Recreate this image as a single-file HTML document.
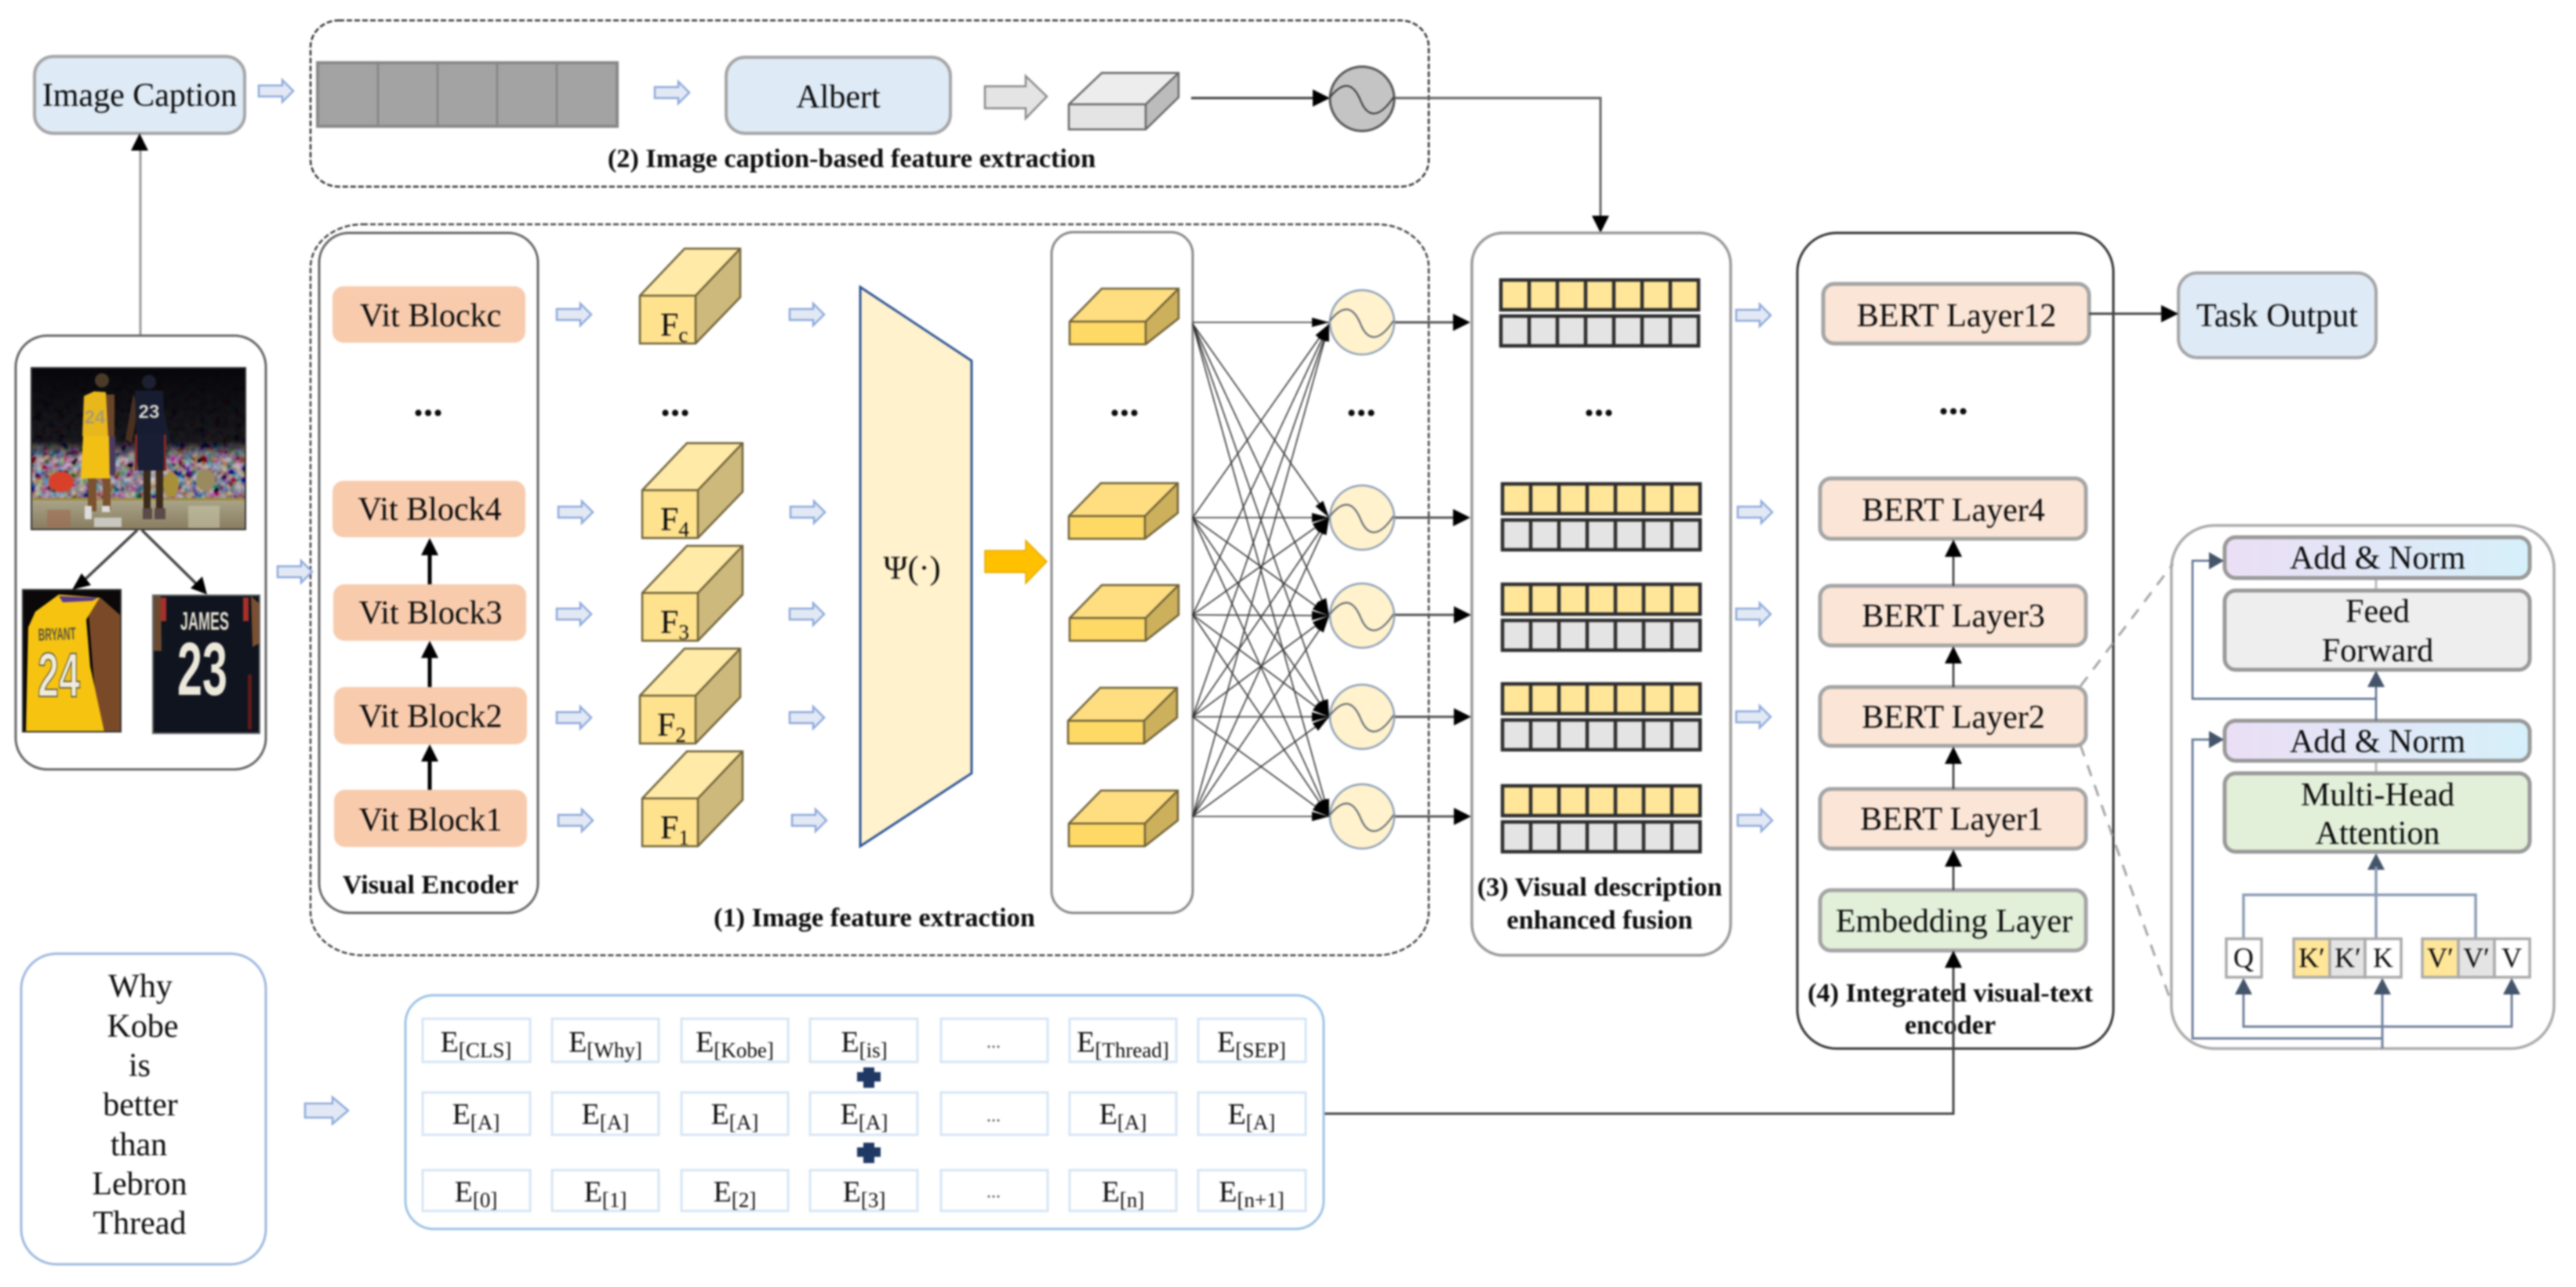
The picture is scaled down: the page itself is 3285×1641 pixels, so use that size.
<!DOCTYPE html>
<html><head><meta charset="utf-8"><style>
html,body{margin:0;padding:0;background:#fff;width:3285px;height:1641px;overflow:hidden}
svg{display:block;filter:blur(1.1px)}
text{font-family:"Liberation Serif",serif;fill:#0c0c0c}
.t{font-size:42px;text-anchor:middle}
.b{font-size:34.3px;font-weight:bold;text-anchor:middle}
.s{font-size:36px;text-anchor:middle}
.d{font-size:50px;font-weight:bold;text-anchor:middle}
.e{font-size:38px;text-anchor:middle}
.e tspan{font-size:27px}
.x{font-size:24px;text-anchor:middle;fill:#555}
</style></head><body>
<svg xmlns="http://www.w3.org/2000/svg" width="3285" height="1641" viewBox="0 0 3285 1641">
<defs>
<linearGradient id="an" x1="0" x2="1" y1="0" y2="0"><stop offset="0" stop-color="#ebdff5"/><stop offset="1" stop-color="#d6f0fa"/></linearGradient>
<linearGradient id="fl" x1="0" x2="0" y1="0" y2="1"><stop offset="0" stop-color="#a8a488"/><stop offset="1" stop-color="#8a7c60"/></linearGradient>
<linearGradient id="fade" x1="0" x2="0" y1="0" y2="1"><stop offset="0" stop-color="#07070b" stop-opacity="1"/><stop offset=".55" stop-color="#07070b" stop-opacity=".88"/><stop offset=".68" stop-color="#07070b" stop-opacity="0"/></linearGradient>
<filter id="n" x="0" y="0" width="1" height="1"><feTurbulence type="fractalNoise" baseFrequency="0.11" numOctaves="2" seed="7"/><feColorMatrix values="1.0 .4 0 0 -.44  .3 .9 .1 0 -.44  .2 .4 .8 0 -.44  0 0 0 0 1"/></filter>
<clipPath id="cp1"><rect x="40" y="469" width="273" height="206"/></clipPath>
<clipPath id="cp2"><rect x="29" y="752" width="125" height="181"/></clipPath>
<clipPath id="cp3"><rect x="195" y="759" width="136" height="176"/></clipPath>
<g id="ba"><path d="M0,-7H30V-14L44,0L30,14V7H0Z" fill="#e2e9f4" stroke="#8faadc" stroke-width="2.5"/></g>
<g id="au"><polygon points="-11,22 0,0 11,22" fill="#000"/></g>
<g id="ad"><polygon points="-11,-22 0,0 11,-22" fill="#000"/></g>
<g id="ar"><polygon points="-22,-11 0,0 -22,11" fill="#000"/></g>
<g id="bu"><polygon points="-11,21 0,0 11,21" fill="#44546a"/></g>
<g id="br"><polygon points="-19,-11 0,0 -19,11" fill="#44546a"/></g>
<g id="cube"><path d="M0,0L57,-60H128L71,0Z" fill="#ffeaa8"/><path d="M71,0L128,-60V2L71,61Z" fill="#cdb97c"/><rect width="71" height="61" fill="#ffe28e"/><path d="M0,0L57,-60H128V2L71,61H0ZM0,0H71M71,0L128,-60M71,0V61" fill="none" stroke="#6f6238" stroke-width="2.5"/></g>
<g id="flat"><path d="M0,0L41,-42H139L97,0Z" fill="#ffde82"/><path d="M97,0L139,-42V-4L97,29Z" fill="#cdb05c"/><rect width="97" height="29" fill="#ffd966"/><path d="M0,0L41,-42H139V-4L97,29H0ZM0,0H97M97,0L139,-42M97,0V29" fill="none" stroke="#6f6238" stroke-width="2.5"/></g>
<g id="cy"><circle r="41" fill="#fff2cc" stroke="#8ea0b8" stroke-width="2.5"/><path d="M-41,-2C-25,-22 -12,-22 -2,2C6,22 20,28 40,-2" fill="none" stroke="#55606e" stroke-width="2"/></g>
<g id="row"><rect x="0" y="0" width="252" height="38" fill="#ffe699"/><rect x="0" y="46" width="252" height="38" fill="#e4e4e4"/>
<path d="M0,0H252V38H0ZM36,0V38M72,0V38M108,0V38M144,0V38M180,0V38M216,0V38M0,46H252V84H0ZM36,46V84M72,46V84M108,46V84M144,46V84M180,46V84M216,46V84" fill="none" stroke="#2e2e2e" stroke-width="4.5"/></g>
<marker id="m" markerUnits="userSpaceOnUse" markerWidth="22" markerHeight="14" refX="22" refY="7" orient="auto"><polygon points="0,1 22,7 0,13" fill="#000"/></marker>
</defs>
<rect width="3285" height="1641" fill="#fff"/>

<!-- dashed groups -->
<rect x="396" y="26" width="1426" height="212" rx="36" ry="34" fill="none" stroke="#333" stroke-width="2.5" stroke-dasharray="7 3"/>
<rect x="396" y="286" width="1426" height="932" rx="66" ry="55" fill="none" stroke="#444" stroke-width="2.5" stroke-dasharray="7 3"/>

<!-- Image caption -->
<rect x="44" y="72" width="268" height="98" rx="24" fill="#deeaf6" stroke="#a5a5a5" stroke-width="4"/>
<text class="t" x="178" y="135">Image Caption</text>
<path d="M179,428V188" stroke="#999" stroke-width="3" fill="none"/><use href="#au" x="178" y="170"/>
<use href="#ba" x="330" y="116"/>
<rect x="405" y="80" width="382" height="81" fill="#a3a3a3" stroke="#888" stroke-width="4"/>
<path d="M482,80V161M558,80V161M634,80V161M710,80V161" stroke="#888" stroke-width="3"/>
<use href="#ba" x="835" y="118"/>
<rect x="926" y="73" width="286" height="97" rx="24" fill="#deeaf6" stroke="#a5a5a5" stroke-width="4"/>
<text class="t" x="1069" y="137">Albert</text>
<path d="M1256,110H1308V97L1335,123L1308,151V138H1256Z" fill="#e4e4e4" stroke="#8a8a8a" stroke-width="2.5"/>
<path d="M1363,133L1405,93H1503L1461,133Z" fill="#ededed"/><path d="M1461,133L1503,93V124L1461,165Z" fill="#bcbcbc"/><rect x="1363" y="133" width="98" height="32" fill="#e4e4e4"/>
<path d="M1363,133L1405,93H1503V124L1461,165H1363ZM1363,133H1461M1461,133L1503,93M1461,133V165" fill="none" stroke="#666" stroke-width="2.5"/>
<path d="M1519,125H1680" stroke="#444" stroke-width="3"/><use href="#ar" x="1696" y="125"/>
<circle cx="1737" cy="126" r="41" fill="#c4c4c4" stroke="#555" stroke-width="3"/><path d="M1696,124C1712,104 1725,104 1735,128C1743,148 1757,154 1777,124" fill="none" stroke="#333" stroke-width="2"/>
<path d="M1779,125H2041V280" fill="none" stroke="#666" stroke-width="3"/><use href="#ad" x="2041" y="297"/>
<text class="b" x="1086" y="213">(2) Image caption-based feature extraction</text>

<!-- Input image -->
<rect x="20" y="428" width="319" height="553" rx="40" fill="#fff" stroke="#666" stroke-width="3"/>
<g clip-path="url(#cp1)">
<rect x="40" y="469" width="273" height="206" fill="#07070b"/>
<rect x="40" y="469" width="273" height="170" filter="url(#n)"/>
<rect x="40" y="469" width="273" height="170" fill="url(#fade)"/>
<ellipse cx="78" cy="614" rx="16" ry="13" fill="#d8402a"/><ellipse cx="218" cy="618" rx="10" ry="16" fill="#a89038"/><ellipse cx="262" cy="612" rx="12" ry="14" fill="#9a8a60"/>
<rect x="40" y="635" width="273" height="4" fill="#a08a40"/>
<rect x="40" y="638" width="273" height="37" fill="url(#fl)"/>
<rect x="120" y="660" width="35" height="12" fill="#c8c8c0"/><rect x="60" y="650" width="30" height="22" fill="#a06a50" opacity=".6"/><rect x="240" y="645" width="40" height="28" fill="#c8c4a8" opacity=".6"/>
<circle cx="130" cy="485" r="9" fill="#4a3a28"/>
<rect x="131" y="503" width="15" height="55" fill="#6a4428"/><rect x="135" y="556" width="12" height="50" fill="#4a3a60"/>
<rect x="112" y="610" width="11" height="42" fill="#7a5230"/><rect x="131" y="610" width="10" height="40" fill="#7a5230"/>
<rect x="108" y="645" width="9" height="17" fill="#ddd"/><rect x="130" y="645" width="10" height="8" fill="#ddd"/>
<path d="M107,505L120,499L135,500L138,556H105Z" fill="#e8b71c"/><path d="M106,556H139L140,610H103Z" fill="#f2c014"/>
<text x="121" y="540" style="font:bold 24px 'Liberation Sans',sans-serif;fill:#a89a70" text-anchor="middle">24</text>
<circle cx="190" cy="487" r="9" fill="#1c2030"/>
<path d="M170,502L160,560L168,565L176,520Z" fill="#4a3020"/><path d="M205,505L218,565L212,568L200,530Z" fill="#181c30"/>
<path d="M172,498H208L210,554H174Z" fill="#181c30"/><path d="M172,554H212V600H176Z" fill="#1a1e34"/>
<rect x="172" y="554" width="3" height="46" fill="#8a2a20"/><rect x="209" y="554" width="3" height="46" fill="#8a2a20"/>
<text x="190" y="533" style="font:bold 24px 'Liberation Sans',sans-serif;fill:#d5d5cc" text-anchor="middle">23</text>
<rect x="183" y="600" width="9" height="50" fill="#3a2a1a"/><rect x="199" y="600" width="9" height="50" fill="#3a2a1a"/>
<rect x="182" y="648" width="12" height="14" fill="#5a4a48"/><rect x="197" y="648" width="14" height="14" fill="#5a4a48"/>
</g>
<rect x="40" y="469" width="273" height="206" fill="none" stroke="#333" stroke-width="2"/>
<g clip-path="url(#cp2)">
<rect x="29" y="752" width="125" height="181" fill="#0a0808"/>
<path d="M112,770L128,762L154,785V933H125Z" fill="#7a4a28"/>
<path d="M33,933L36,800L45,780L75,758L127,762L110,790L115,850L133,933Z" fill="#f6c410"/>
<path d="M75,760L125,762L118,766L80,768Z" fill="#5a3a90"/>
<text x="73" y="816" transform="rotate(-2 73 816)" style="font:bold 22px 'Liberation Sans',sans-serif;fill:#5a5540" text-anchor="middle" textLength="48" lengthAdjust="spacingAndGlyphs">BRYANT</text>
<text x="75" y="888" style="font:bold 80px 'Liberation Sans',sans-serif;fill:#f0ecd8;stroke:#444;stroke-width:1.5" text-anchor="middle" textLength="54" lengthAdjust="spacingAndGlyphs">24</text>
</g>
<rect x="29" y="752" width="125" height="181" fill="none" stroke="#333" stroke-width="2"/>
<g clip-path="url(#cp3)">
<rect x="195" y="759" width="136" height="176" fill="#10141f"/>
<path d="M195,760H205L206,830H195Z" fill="#6a4a30"/><path d="M320,760L331,770V820L322,825Z" fill="#7a5030"/>
<rect x="205" y="762" width="7" height="30" fill="#a83028"/><rect x="310" y="762" width="7" height="30" fill="#a83028"/>
<rect x="316" y="860" width="5" height="70" fill="#601a18"/>
<text x="261" y="803" style="font:bold 32px 'Liberation Sans',sans-serif;fill:#e4dfcf" text-anchor="middle" textLength="62" lengthAdjust="spacingAndGlyphs">JAMES</text>
<text x="258" y="886" style="font:bold 96px 'Liberation Sans',sans-serif;fill:#ece8da" text-anchor="middle" textLength="64" lengthAdjust="spacingAndGlyphs">23</text>
</g>
<rect x="195" y="759" width="136" height="176" fill="none" stroke="#666" stroke-width="2"/>
<path d="M175,676L105,742M181,676L254,748" stroke="#444" stroke-width="3.5" fill="none"/>
<polygon points="92,752 104,731 116,746" fill="#000"/><polygon points="264,758 243,750 258,735" fill="#000"/>
<use href="#ba" x="354" y="729"/>

<!-- Visual encoder -->
<rect x="407" y="297" width="279" height="867" rx="38" fill="#fff" stroke="#666" stroke-width="3"/>
<g fill="#f8cbad"><rect x="424" y="365" width="246" height="72" rx="14"/><rect x="424" y="613" width="246" height="72" rx="14"/><rect x="425" y="745" width="246" height="72" rx="14"/><rect x="426" y="876" width="246" height="73" rx="14"/><rect x="426" y="1007" width="246" height="73" rx="14"/></g>
<text class="t" x="549" y="416">Vit Blockc</text>
<text class="t" x="548" y="663">Vit Block4</text>
<text class="t" x="549" y="795">Vit Block3</text>
<text class="t" x="549" y="927">Vit Block2</text>
<text class="t" x="549" y="1059">Vit Block1</text>
<text class="d" x="546" y="530">...</text>
<path d="M548,700V745M548,832V876M548,963V1007" stroke="#000" stroke-width="5"/>
<use href="#au" x="548" y="686"/><use href="#au" x="548" y="817"/><use href="#au" x="548" y="949"/>
<text class="b" x="549" y="1139">Visual Encoder</text>
<use href="#ba" x="710" y="401"/><use href="#ba" x="712" y="653"/><use href="#ba" x="710" y="783"/><use href="#ba" x="710" y="915"/><use href="#ba" x="712" y="1046"/>
<use href="#cube" x="816" y="377"/><use href="#cube" x="819" y="625"/><use href="#cube" x="819" y="756"/><use href="#cube" x="816" y="887"/><use href="#cube" x="819" y="1018"/>
<text class="t" x="842" y="428" style="text-anchor:start">F<tspan font-size="27" dy="8">c</tspan></text>
<text class="t" x="842" y="676" style="text-anchor:start">F<tspan font-size="27" dy="8">4</tspan></text>
<text class="t" x="842" y="807" style="text-anchor:start">F<tspan font-size="27" dy="8">3</tspan></text>
<text class="t" x="838" y="938" style="text-anchor:start">F<tspan font-size="27" dy="8">2</tspan></text>
<text class="t" x="842" y="1069" style="text-anchor:start">F<tspan font-size="27" dy="8">1</tspan></text>
<text class="d" x="861" y="530">...</text>
<use href="#ba" x="1007" y="401"/><use href="#ba" x="1008" y="653"/><use href="#ba" x="1007" y="783"/><use href="#ba" x="1007" y="915"/><use href="#ba" x="1010" y="1046"/>
<polygon points="1097,366 1239,460 1239,986 1097,1079" fill="#fff2cc" stroke="#2f5597" stroke-width="3"/>
<text class="t" x="1163" y="738">Ψ(·)</text>
<path d="M1256,702H1308V689L1335,716L1308,744V730H1256Z" fill="#ffc000" stroke="#e0a800" stroke-width="1.5"/>
<rect x="1341" y="296" width="180" height="868" rx="28" fill="#fff" stroke="#888" stroke-width="3"/>
<use href="#flat" x="1364" y="410"/><use href="#flat" x="1363" y="658"/><use href="#flat" x="1364" y="788"/><use href="#flat" x="1362" y="919"/><use href="#flat" x="1363" y="1050"/>
<text class="d" x="1434" y="530">...</text>
<text class="b" x="1115" y="1181">(1) Image feature extraction</text>

<!-- mesh -->
<g fill="none" stroke="#333" stroke-width="1.6" marker-end="url(#m)">
<path d="M1521,411L1695,411"/><path d="M1521,413L1695,660"/><path d="M1521,413L1695,785"/><path d="M1521,413L1695,914"/><path d="M1521,413L1695,1041"/>
<path d="M1521,660L1695,413"/><path d="M1521,660L1695,660"/><path d="M1521,660L1695,785"/><path d="M1521,660L1695,914"/><path d="M1521,660L1695,1041"/>
<path d="M1521,784L1695,413"/><path d="M1521,784L1695,660"/><path d="M1521,784L1695,785"/><path d="M1521,784L1695,914"/><path d="M1521,784L1695,1041"/>
<path d="M1521,914L1695,413"/><path d="M1521,914L1695,660"/><path d="M1521,914L1695,785"/><path d="M1521,914L1695,914"/><path d="M1521,914L1695,1041"/>
<path d="M1521,1041L1695,413"/><path d="M1521,1041L1695,660"/><path d="M1521,1041L1695,785"/><path d="M1521,1041L1695,914"/><path d="M1521,1041L1695,1041"/>
</g>
<use href="#cy" x="1737" y="411"/><use href="#cy" x="1737" y="660"/><use href="#cy" x="1737" y="785"/><use href="#cy" x="1737" y="914"/><use href="#cy" x="1737" y="1041"/>
<text class="d" x="1736" y="530">...</text>
<path d="M1779,411H1856M1779,660H1856M1779,784H1856M1779,914H1856M1779,1041H1856" stroke="#555" stroke-width="3"/>
<use href="#ar" x="1875" y="411"/><use href="#ar" x="1875" y="660"/><use href="#ar" x="1876" y="784"/><use href="#ar" x="1876" y="914"/><use href="#ar" x="1876" y="1041"/>

<!-- fusion -->
<rect x="1877" y="297" width="330" height="921" rx="40" fill="#fff" stroke="#999" stroke-width="3.5"/>
<use href="#row" x="1914" y="357"/><use href="#row" x="1916" y="617"/><use href="#row" x="1916" y="745"/><use href="#row" x="1916" y="872"/><use href="#row" x="1916" y="1002"/>
<text class="d" x="2039" y="530">...</text>
<text class="b" x="2040" y="1142">(3) Visual description</text>
<text class="b" x="2040" y="1184">enhanced fusion</text>
<use href="#ba" x="2214" y="402"/><use href="#ba" x="2216" y="653"/><use href="#ba" x="2214" y="783"/><use href="#ba" x="2214" y="914"/><use href="#ba" x="2216" y="1046"/>

<!-- BERT -->
<rect x="2292" y="297" width="403" height="1040" rx="50" fill="#fff" stroke="#333" stroke-width="3"/>
<g fill="#fbe5d6" stroke="#a5a5a5" stroke-width="5">
<rect x="2325" y="362" width="339" height="76" rx="14"/><rect x="2321" y="610" width="339" height="77" rx="14"/><rect x="2321" y="747" width="339" height="76" rx="14"/><rect x="2321" y="876" width="339" height="75" rx="14"/><rect x="2321" y="1006" width="339" height="76" rx="14"/></g>
<rect x="2321" y="1135" width="339" height="77" rx="14" fill="#e2efd9" stroke="#a5a5a5" stroke-width="5"/>
<text class="t" x="2495" y="416">BERT Layer12</text>
<text class="d" x="2491" y="528">...</text>
<text class="t" x="2491" y="664">BERT Layer4</text>
<text class="t" x="2491" y="799">BERT Layer3</text>
<text class="t" x="2491" y="928">BERT Layer2</text>
<text class="t" x="2489" y="1058">BERT Layer1</text>
<text class="t" x="2492" y="1188">Embedding Layer</text>
<path d="M2491,700V747M2491,835V876M2491,965V1006M2491,1095V1135" stroke="#333" stroke-width="2.5"/>
<use href="#au" x="2491" y="688"/><use href="#au" x="2491" y="824"/><use href="#au" x="2491" y="952"/><use href="#au" x="2491" y="1083"/>
<text class="b" x="2487" y="1277">(4) Integrated visual-text</text>
<text class="b" x="2487" y="1318">encoder</text>
<path d="M1688,1420H2491V1230" fill="none" stroke="#444" stroke-width="3"/><use href="#au" x="2491" y="1212"/>
<rect x="2778" y="348" width="252" height="108" rx="24" fill="#deeaf6" stroke="#a5a5a5" stroke-width="4"/>
<text class="t" x="2904" y="416">Task Output</text>
<path d="M2664,400H2760" stroke="#444" stroke-width="3"/><use href="#ar" x="2778" y="400"/>

<!-- detail box -->
<rect x="2769" y="670" width="488" height="667" rx="55" fill="#fff" stroke="#aaa" stroke-width="3.5"/>
<path d="M2653,875L2771,719M2653,950L2767,1273" fill="none" stroke="#a5a5a5" stroke-width="3" stroke-dasharray="15 12"/>
<path d="M3030,737V753M3030,970V986" stroke="#bbb" stroke-width="3"/>
<rect x="2837" y="685" width="389" height="52" rx="14" fill="url(#an)" stroke="#999" stroke-width="5"/>
<rect x="2837" y="753" width="389" height="101" rx="14" fill="#eeeeee" stroke="#999" stroke-width="5"/>
<rect x="2837" y="919" width="389" height="51" rx="14" fill="url(#an)" stroke="#999" stroke-width="5"/>
<rect x="2837" y="986" width="389" height="100" rx="14" fill="#e2efd9" stroke="#999" stroke-width="5"/>
<text class="t" x="3032" y="725">Add &amp; Norm</text>
<text class="t" x="3032" y="793">Feed</text>
<text class="t" x="3032" y="843">Forward</text>
<text class="t" x="3032" y="959">Add &amp; Norm</text>
<text class="t" x="3032" y="1027">Multi-Head</text>
<text class="t" x="3032" y="1076">Attention</text>
<path d="M3030,919V870M3030,891H2796V715H2820" fill="none" stroke="#5a6e8c" stroke-width="2.5"/>
<use href="#br" x="2836" y="715"/><use href="#bu" x="3030" y="855"/>
<path d="M3038,1337V1265M2861,1265V1309H3203V1265M3038,1324H2796V943H2820" fill="none" stroke="#6f819c" stroke-width="3"/>
<use href="#br" x="2836" y="943"/>
<use href="#bu" x="2861" y="1247"/><use href="#bu" x="3038" y="1247"/><use href="#bu" x="3203" y="1247"/><use href="#bu" x="3030" y="1088"/>
<path d="M3030,1105V1197M2861,1197V1141H3157V1197" fill="none" stroke="#8c9db5" stroke-width="3.5"/>
<g stroke="#aaa" stroke-width="3.5">
<rect x="2839" y="1197" width="45" height="49" fill="#fff"/>
<rect x="2925" y="1197" width="46" height="49" fill="#ffe699"/><rect x="2971" y="1197" width="45" height="49" fill="#e4e4e4"/><rect x="3016" y="1197" width="46" height="49" fill="#fff"/>
<rect x="3089" y="1197" width="46" height="49" fill="#ffe699"/><rect x="3135" y="1197" width="46" height="49" fill="#e4e4e4"/><rect x="3181" y="1197" width="45" height="49" fill="#fff"/></g>
<text class="s" x="2861" y="1233">Q</text><text class="s" x="2948" y="1233">K′</text><text class="s" x="2994" y="1233">K′</text><text class="s" x="3039" y="1233">K</text><text class="s" x="3112" y="1233">V′</text><text class="s" x="3158" y="1233">V′</text><text class="s" x="3203" y="1233">V</text>

<!-- question -->
<rect x="27" y="1216" width="312" height="396" rx="45" fill="#fff" stroke="#9db8e0" stroke-width="3"/>
<text class="t" x="179" y="1271">Why</text><text class="t" x="182" y="1322">Kobe</text><text class="t" x="178" y="1372">is</text><text class="t" x="179" y="1422">better</text><text class="t" x="177" y="1473">than</text><text class="t" x="178" y="1523">Lebron</text><text class="t" x="178" y="1573">Thread</text>
<path d="M389,1407H424V1399L444,1416L424,1433V1425H389Z" fill="#e2e9f4" stroke="#8faadc" stroke-width="2.5"/>

<!-- embeddings -->
<rect x="517" y="1269" width="1171" height="298" rx="36" fill="#fff" stroke="#9dc3e6" stroke-width="3"/>
<g fill="#fff" stroke="#d6e6f5" stroke-width="3">
<rect x="539" y="1299" width="137" height="55"/><rect x="704" y="1299" width="136" height="55"/><rect x="869" y="1299" width="136" height="55"/><rect x="1033" y="1299" width="137" height="55"/><rect x="1200" y="1299" width="136" height="55"/><rect x="1364" y="1299" width="136" height="55"/><rect x="1528" y="1299" width="137" height="55"/>
<rect x="539" y="1393" width="137" height="54"/><rect x="704" y="1393" width="136" height="54"/><rect x="869" y="1393" width="136" height="54"/><rect x="1033" y="1393" width="137" height="54"/><rect x="1200" y="1393" width="136" height="54"/><rect x="1364" y="1393" width="136" height="54"/><rect x="1528" y="1393" width="137" height="54"/>
<rect x="539" y="1492" width="137" height="52"/><rect x="704" y="1492" width="136" height="52"/><rect x="869" y="1492" width="136" height="52"/><rect x="1033" y="1492" width="137" height="52"/><rect x="1200" y="1492" width="136" height="52"/><rect x="1364" y="1492" width="136" height="52"/><rect x="1528" y="1492" width="137" height="52"/></g>
<text class="e" x="607" y="1341">E<tspan dy="7">[CLS]</tspan></text><text class="e" x="772" y="1341">E<tspan dy="7">[Why]</tspan></text><text class="e" x="937" y="1341">E<tspan dy="7">[Kobe]</tspan></text><text class="e" x="1102" y="1341">E<tspan dy="7">[is]</tspan></text><text class="x" x="1267" y="1336">...</text><text class="e" x="1432" y="1341">E<tspan dy="7">[Thread]</tspan></text><text class="e" x="1596" y="1341">E<tspan dy="7">[SEP]</tspan></text>
<text class="e" x="607" y="1433">E<tspan dy="7">[A]</tspan></text><text class="e" x="772" y="1433">E<tspan dy="7">[A]</tspan></text><text class="e" x="937" y="1433">E<tspan dy="7">[A]</tspan></text><text class="e" x="1102" y="1433">E<tspan dy="7">[A]</tspan></text><text class="x" x="1267" y="1430">...</text><text class="e" x="1432" y="1433">E<tspan dy="7">[A]</tspan></text><text class="e" x="1596" y="1433">E<tspan dy="7">[A]</tspan></text>
<text class="e" x="607" y="1532">E<tspan dy="7">[0]</tspan></text><text class="e" x="772" y="1532">E<tspan dy="7">[1]</tspan></text><text class="e" x="937" y="1532">E<tspan dy="7">[2]</tspan></text><text class="e" x="1102" y="1532">E<tspan dy="7">[3]</tspan></text><text class="x" x="1267" y="1527">...</text><text class="e" x="1432" y="1532">E<tspan dy="7">[n]</tspan></text><text class="e" x="1596" y="1532">E<tspan dy="7">[n+1]</tspan></text>
<path d="M1102,1360H1116V1366H1124V1378H1116V1386H1102V1378H1094V1366H1102Z" fill="#1f3864" transform="translate(-1,1)"/>
<path d="M1102,1456H1116V1462H1124V1474H1116V1482H1102V1474H1094V1462H1102Z" fill="#1f3864" transform="translate(-1,1)"/>
</svg>
</body></html>
